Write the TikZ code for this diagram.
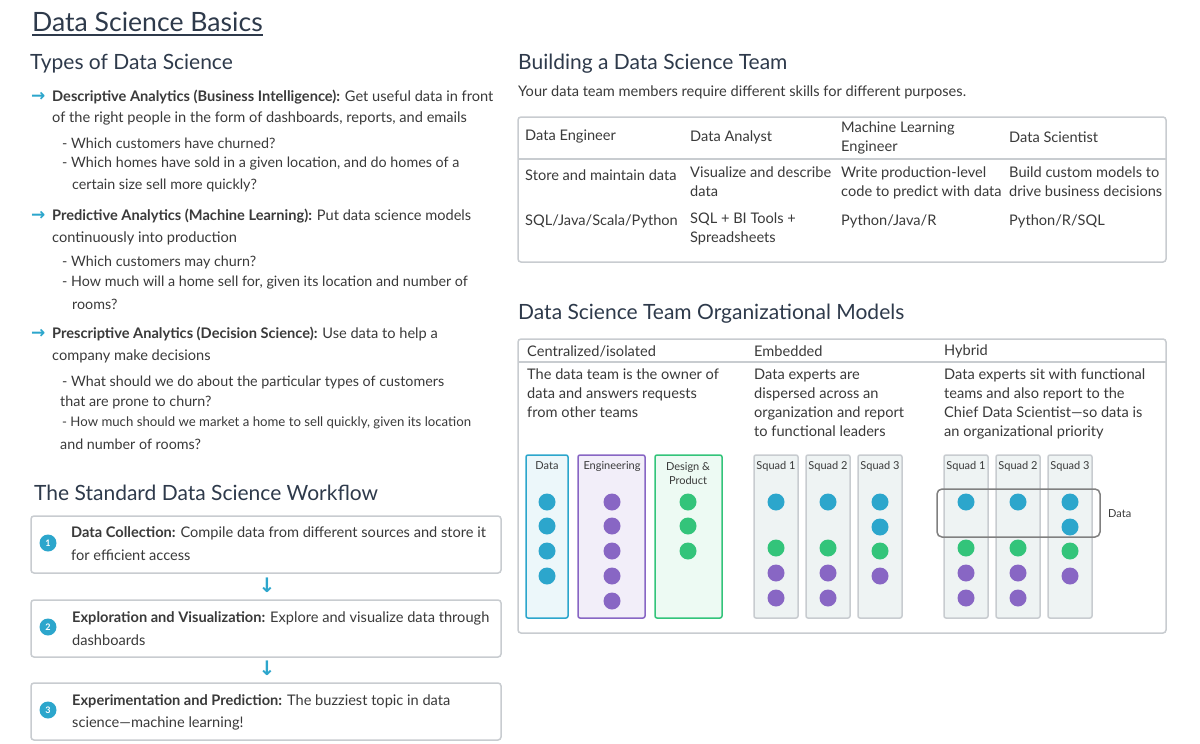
\documentclass[tikz,border=0pt]{standalone}
\usepackage{fontspec}
\setmainfont{Lato}
\newfontfamily\symf{DejaVu Sans}
\definecolor{txt}{HTML}{3A3A3A}
\definecolor{head}{HTML}{2E3A4B}
\definecolor{bl}{HTML}{2CA6CC}
\definecolor{pu}{HTML}{8866C4}
\definecolor{gr}{HTML}{33C47A}
\definecolor{brd}{HTML}{C8CCD0}
\definecolor{sq}{HTML}{EEF3F3}
\begin{document}
\begin{tikzpicture}[x=1pt,y=-1pt,
  t/.style={anchor=west,inner sep=0pt,text=txt,font=\fontsize{14.6}{19}\selectfont},
  sb/.style={anchor=west,inner sep=0pt,text=txt,font=\fontsize{14.3}{19}\selectfont},
  h/.style={anchor=west,inner sep=0pt,text=head,font=\fontsize{21}{24}\selectfont},
  s/.style={anchor=center,inner sep=0pt,text=txt,font=\fontsize{11}{14}\selectfont,align=center},
  ar/.style={anchor=west,inner sep=0pt,text=bl,font=\symf\fontsize{17}{17}\selectfont\bfseries},
  card/.style={draw=brd,line width=1.5pt,rounded corners=3pt,fill=white},
  num/.style={circle,fill=bl,text=white,inner sep=0pt,minimum size=17pt,font=\fontsize{9}{10}\selectfont\bfseries},
  dot/.style={circle,inner sep=0pt,minimum size=17pt},
  col/.style={rounded corners=2pt,line width=1.5pt}]
\useasboundingbox (0,0) rectangle (1200,744);
\fill[white] (0,0) rectangle (1200,744);
% title
\node[anchor=west,inner sep=0pt,text=head,font=\fontsize{26.6}{30}\selectfont] (title) at (32,22) {Data Science Basics};
\draw[head,line width=1.3pt] (title.south west) ++(0,3) -- ([yshift=-3pt]title.south east);
% types
\node[h] (types) at (30,64) {Types of Data Science};
\node[ar] (a1) at (31,97) {→};
\node[t] (l1) at (52,97) {\textbf{Descriptive Analytics (Business Intelligence):} Get useful data in front};
\node[t] (l2) at (52,118) {of the right people in the form of dashboards, reports, and emails};
\node[sb] (l3) at (62,143) {- Which customers have churned?};
\node[sb] (l4) at (62,164) {- Which homes have sold in a given location, and do homes of a};
\node[sb] (l5) at (72,185) {certain size sell more quickly?};
\node[ar] (a2) at (31,216) {→};
\node[t] (l6) at (52,216) {\textbf{Predictive Analytics (Machine Learning):} Put data science models};
\node[t] (l7) at (52,238) {continuously into production};
\node[sb] (l8) at (62,262) {- Which customers may churn?};
\node[sb] (l9) at (62,283) {- How much will a home sell for, given its location and number of};
\node[sb] (l10) at (72,304) {rooms?};
\node[ar] (a3) at (31,334) {→};
\node[t] (l11) at (52,334) {\textbf{Prescriptive Analytics (Decision Science):} Use data to help a};
\node[t] (l12) at (52,356) {company make decisions};
\node[sb] (l13) at (62,382) {- What should we do about the particular types of customers};
\node[sb] (l14) at (60,402) {that are prone to churn?};
\node[sb,font=\fontsize{13.2}{17}\selectfont] (l15) at (62,423) {- How much should we market a home to sell quickly, given its location};
\node[sb] (l16) at (60,444) {and number of rooms?};
% workflow
\node[h] (wf) at (34,493) {The Standard Data Science Workflow};
\draw[card] (31,516) rectangle (501,573);
\draw[card] (31,600) rectangle (501,657);
\draw[card] (31,683) rectangle (501,740);
\node[num] (n1) at (48,543) {1};
\node[num] (n2) at (48,627) {2};
\node[num] (n3) at (48,710) {3};
\node[t] (w1) at (71,533) {\textbf{Data Collection:} Compile data from different sources and store it};
\node[t] (w1b) at (71,555) {for efficient access};
\node[t] (w2) at (72,618) {\textbf{Exploration and Visualization:} Explore and visualize data through};
\node[t] (w2b) at (72,640) {dashboards};
\node[t] (w3) at (72,701) {\textbf{Experimentation and Prediction:} The buzziest topic in data};
\node[t] (w3b) at (72,723) {science—machine learning!};
\node[ar,anchor=center,font=\symf\fontsize{20}{20}\selectfont\bfseries] (d1) at (267,585) {↓};
\node[ar,anchor=center,font=\symf\fontsize{20}{20}\selectfont\bfseries] (d2) at (267,668) {↓};
% team
\node[h] (team) at (518,64) {Building a Data Science Team};
\node[t] (teamsub) at (518,92) {Your data team members require different skills for different purposes.};
\draw[card] (518,117) rectangle (1166,262);
\draw[brd,line width=1.5pt] (518,159) -- (1166,159);
\node[t] (c1) at (525,137) {Data Engineer};
\node[t] (c2) at (690,137) {Data Analyst};
\node[t,align=left] (c3) at (841,138) {Machine Learning\\Engineer};
\node[t] (c4) at (1009,137) {Data Scientist};
\node[t] (r11) at (525,175) {Store and maintain data};
\node[t,align=left,anchor=north west] (r12) at (690,167) {Visualize and describe\\data};
\node[t,align=left,anchor=north west] (r13) at (841,167) {Write production-level\\code to predict with data};
\node[t,align=left,anchor=north west] (r14) at (1009,167) {Build custom models to\\drive business decisions};
\node[t] (r21) at (525,221) {SQL/Java/Scala/Python};
\node[t,align=left,anchor=north west] (r22) at (690,213) {SQL + BI Tools +\\Spreadsheets};
\node[t] (r23) at (841,221) {Python/Java/R};
\node[t] (r24) at (1009,221) {Python/R/SQL};
% models
\node[h] (mod) at (518,314) {Data Science Team Organizational Models};
\draw[card] (518,339) rectangle (1166,633);
\draw[brd,line width=1.5pt] (518,362) -- (1166,362);
\node[t] (m1) at (527,351) {Centralized/isolated};
\node[t] (m2) at (754,351) {Embedded};
\node[t] (m3) at (944,351) {Hybrid};
\node[t,align=left,anchor=north west] (m1t) at (527,369) {The data team is the owner of\\data and answers requests\\from other teams};
\node[t,align=left,anchor=north west] (m2t) at (754,369) {Data experts are\\dispersed across an\\organization and report\\to functional leaders};
\node[t,align=left,anchor=north west] (m3t) at (944,369) {Data experts sit with functional\\teams and also report to the\\Chief Data Scientist—so data is\\an organizational priority};
% columns
\draw[col,draw=bl,fill=bl!9] (526,455) rectangle (568,618);
\draw[col,draw=pu,fill=pu!11] (578,455) rectangle (645,618);
\draw[col,draw=gr,fill=gr!9] (655,455) rectangle (722,618);
\foreach \x in {754,806,858,944,996,1048}
  \draw[col,draw=brd,fill=sq] (\x,455) rectangle (\x+44,618);
\node[s] (k1) at (547,466) {Data};
\node[s] (k2) at (612,466) {Engineering};
\node[s] (k3) at (688,474) {Design \&\\Product};
\node[s] (e1) at (776,466) {Squad 1};
\node[s] (e2) at (828,466) {Squad 2};
\node[s] (e3) at (880,466) {Squad 3};
\node[s] (f1) at (966,466) {Squad 1};
\node[s] (f2) at (1018,466) {Squad 2};
\node[s] (f3) at (1070,466) {Squad 3};
% dots
\foreach \y in {502,526,551,576} \node[dot,fill=bl] at (547,\y) {};
\foreach \y in {502,526,551,576,601} \node[dot,fill=pu] at (612,\y) {};
\foreach \y in {502,526,551} \node[dot,fill=gr] at (688,\y) {};
\foreach \x in {776,828,966,1018} {
  \node[dot,fill=bl] at (\x,502) {};
  \node[dot,fill=gr] at (\x,548) {};
  \node[dot,fill=pu] at (\x,573) {};
  \node[dot,fill=pu] at (\x,598) {};
}
\foreach \x in {880,1070} {
  \node[dot,fill=bl] at (\x,502) {};
  \node[dot,fill=bl] at (\x,527) {};
  \node[dot,fill=gr] at (\x,551) {};
  \node[dot,fill=pu] at (\x,576) {};
}
\draw[gray,line width=1.5pt,rounded corners=5pt] (937,489) rectangle (1100,537);
\node[s,anchor=west] (dl) at (1108,514) {Data};
\end{tikzpicture}
\end{document}
